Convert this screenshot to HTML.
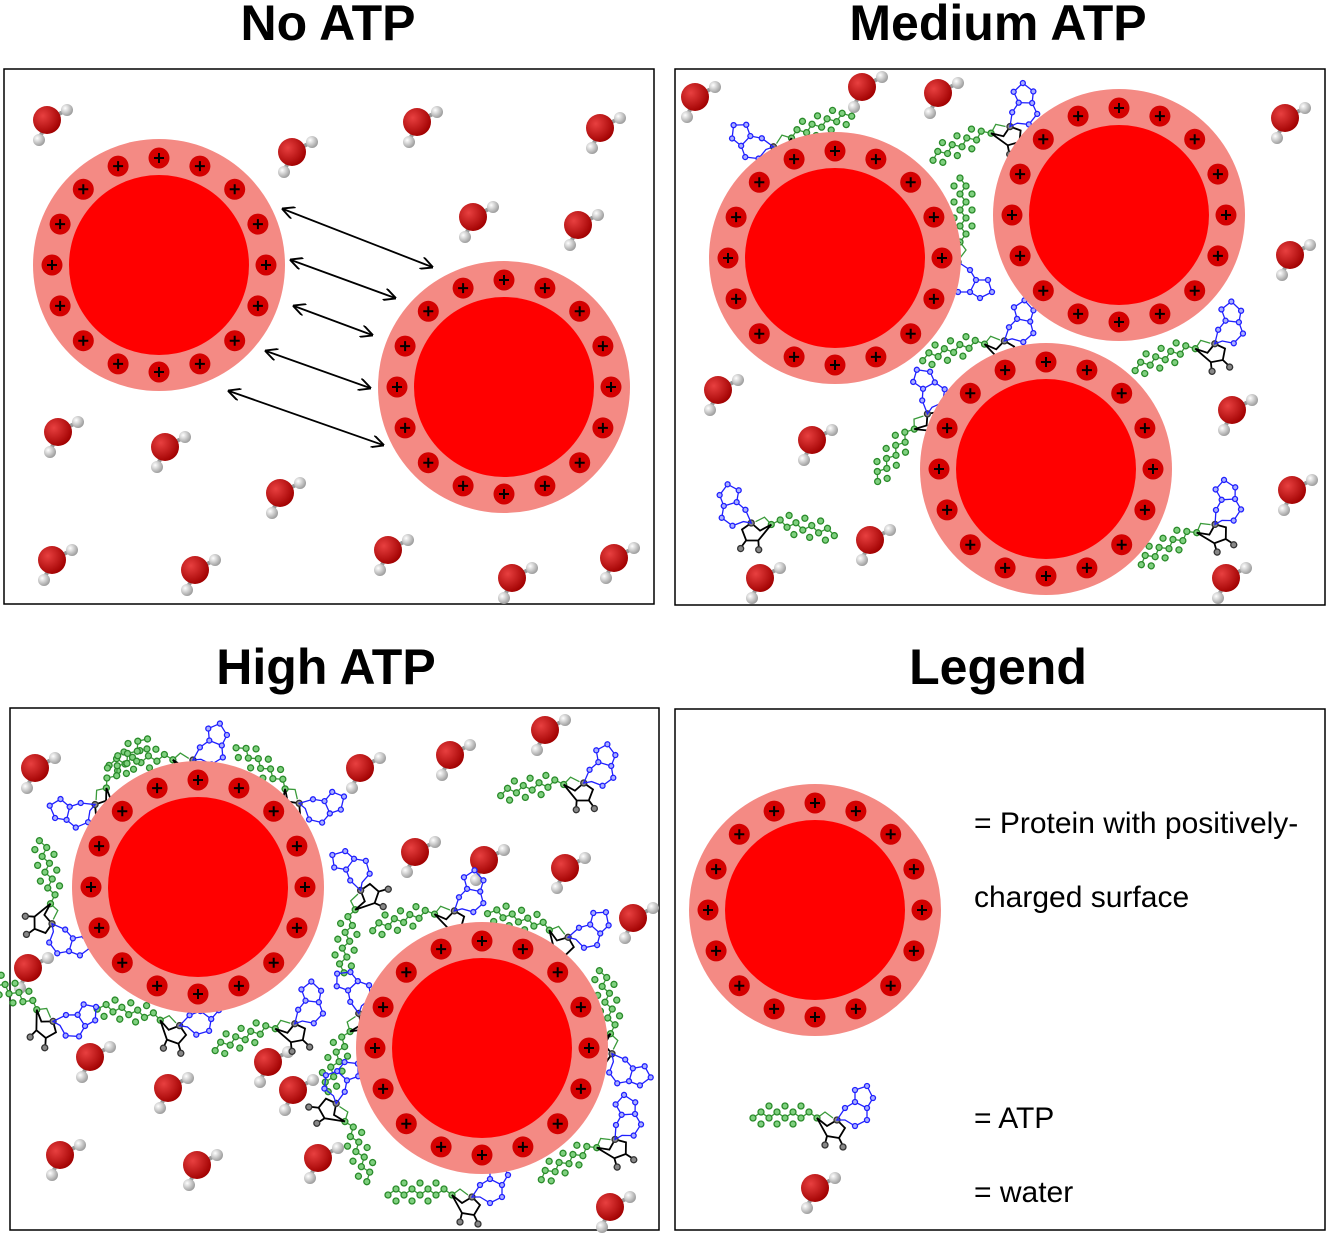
<!DOCTYPE html>
<html><head><meta charset="utf-8"><style>
html,body{margin:0;padding:0;background:#fff}
svg{display:block}
.t{font-family:"Liberation Sans",Arial,sans-serif;font-weight:bold;font-size:50px;text-anchor:middle}
.l{font-family:"Liberation Sans",Arial,sans-serif;font-size:30px}
</style></head><body>
<svg width="1328" height="1235" viewBox="0 0 1328 1235" xmlns="http://www.w3.org/2000/svg">
<defs>
<radialGradient id="rg" cx="0.35" cy="0.35" r="0.7"><stop offset="0" stop-color="#e84040"/><stop offset="1" stop-color="#a00000"/></radialGradient>
<radialGradient id="wg" cx="0.35" cy="0.35" r="0.7"><stop offset="0" stop-color="#fff"/><stop offset="1" stop-color="#999"/></radialGradient>
<g id="plus"><circle r="10.5" fill="#d40000"/><path d="M-5 0H5M0 -5V5" stroke="#000" stroke-width="2"/></g>
<g id="prot">
<circle r="126" fill="#f48a84"/><circle r="90" fill="#ff0000"/>
<use href="#plus" x="107" y="0"/><use href="#plus" x="98.9" y="40.9"/><use href="#plus" x="75.7" y="75.7"/><use href="#plus" x="40.9" y="98.9"/>
<use href="#plus" x="0" y="107"/><use href="#plus" x="-40.9" y="98.9"/><use href="#plus" x="-75.7" y="75.7"/><use href="#plus" x="-98.9" y="40.9"/>
<use href="#plus" x="-107" y="0"/><use href="#plus" x="-98.9" y="-40.9"/><use href="#plus" x="-75.7" y="-75.7"/><use href="#plus" x="-40.9" y="-98.9"/>
<use href="#plus" x="0" y="-107"/><use href="#plus" x="40.9" y="-98.9"/><use href="#plus" x="75.7" y="-75.7"/><use href="#plus" x="98.9" y="-40.9"/>
</g>
<g id="w">
<path d="M0 0L20 -10M0 0L-8 20" stroke="#999" stroke-width="4"/>
<circle cx="20" cy="-10" r="6" fill="url(#wg)"/><circle cx="-8" cy="20" r="6" fill="url(#wg)"/>
<circle r="14" fill="url(#rg)"/>
</g>
<g id="atp" fill="none" stroke-width="1.3">
<path d="M-62 10l8 -6l8 6l8 -6l8 6l8 -6l8 6l8 -6l8 6l8 -6l8 6" stroke="#3a9a3a"/>
<g fill="#7fd07f" stroke="#2a8a2a">
<circle cx="-62" cy="10" r="3"/><circle cx="-54" cy="4" r="3"/><circle cx="-46" cy="10" r="3"/><circle cx="-38" cy="4" r="3"/><circle cx="-30" cy="10" r="3"/><circle cx="-22" cy="4" r="3"/><circle cx="-14" cy="10" r="3"/><circle cx="-6" cy="4" r="3"/><circle cx="2" cy="10" r="3"/><circle cx="-46" cy="-2" r="3"/><circle cx="-30" cy="-2" r="3"/><circle cx="-14" cy="-2" r="3"/><circle cx="-38" cy="16" r="3"/><circle cx="-22" cy="16" r="3"/><circle cx="-54" cy="16" r="3"/></g>
<path d="M2 10L12 18L22 12L30 20L24 30L12 28Z M12 28L10 36M24 30L28 38" stroke="#000" stroke-width="1.8"/>
<g fill="#888" stroke="#333"><circle cx="10" cy="37" r="3"/><circle cx="28" cy="39" r="3"/><circle cx="22" cy="12" r="3"/></g>
<path d="M22 12L30 0L40 -6L52 0L52 12L40 18L30 12ZM40 -6L40 -18L52 -22L58 -10L52 0" stroke="#2020ff"/>
<g fill="#aab0ff" stroke="#2020ff"><circle cx="30" cy="0" r="2.5"/><circle cx="40" cy="-6" r="2.5"/><circle cx="52" cy="0" r="2.5"/><circle cx="52" cy="12" r="2.5"/><circle cx="40" cy="18" r="2.5"/><circle cx="40" cy="-18" r="2.5"/><circle cx="52" cy="-22" r="2.5"/><circle cx="58" cy="-10" r="2.5"/></g>
</g>
<marker id="ah" viewBox="0 0 10 10" refX="9" refY="5" markerWidth="7" markerHeight="7" orient="auto-start-reverse"><path d="M0 0L10 5L0 10" fill="none" stroke="#000" stroke-width="1.5"/></marker>
</defs>

<text class="t" x="328" y="40">No ATP</text>
<text class="t" x="998" y="40">Medium ATP</text>
<text class="t" x="326" y="684">High ATP</text>
<text class="t" x="998" y="684">Legend</text>

<rect x="4" y="69" width="650" height="535" fill="none" stroke="#000" stroke-width="1.5"/>
<rect x="675" y="69" width="650" height="536" fill="none" stroke="#000" stroke-width="1.5"/>
<rect x="10" y="708" width="649" height="522" fill="none" stroke="#000" stroke-width="1.5"/>
<rect x="675" y="709" width="650" height="521" fill="none" stroke="#000" stroke-width="1.5"/>

<g>
<use href="#w" x="47" y="120"/><use href="#w" x="417" y="122"/><use href="#w" x="292" y="152"/><use href="#w" x="600" y="128"/><use href="#w" x="473" y="217"/><use href="#w" x="578" y="225"/><use href="#w" x="58" y="432"/><use href="#w" x="165" y="447"/><use href="#w" x="280" y="493"/><use href="#w" x="52" y="560"/><use href="#w" x="195" y="570"/><use href="#w" x="388" y="550"/><use href="#w" x="512" y="578"/><use href="#w" x="614" y="558"/>
</g>
<use href="#prot" x="159" y="265"/><use href="#prot" x="504" y="387"/>
<g stroke="#000" stroke-width="1.8" marker-start="url(#ah)" marker-end="url(#ah)">
<line x1="283" y1="209" x2="432" y2="267"/><line x1="291" y1="260" x2="395" y2="298"/><line x1="294" y1="306" x2="372" y2="335"/><line x1="266" y1="351" x2="370" y2="388"/><line x1="229" y1="391" x2="383" y2="445"/>
</g>

<g>
<use href="#w" x="695" y="97"/><use href="#w" x="862" y="87"/><use href="#w" x="938" y="93"/><use href="#w" x="1285" y="118"/><use href="#w" x="1290" y="255"/><use href="#w" x="718" y="390"/><use href="#w" x="812" y="440"/><use href="#w" x="1232" y="410"/><use href="#w" x="1292" y="490"/><use href="#w" x="870" y="540"/><use href="#w" x="760" y="578"/><use href="#w" x="1226" y="578"/>
<use href="#atp" transform="translate(790 128) rotate(-20) scale(-1 1)"/>
<use href="#atp" transform="translate(985 125) rotate(-25)"/>
<use href="#atp" transform="translate(970 240) rotate(90)"/>
<use href="#atp" transform="translate(980 335) rotate(-15)"/>
<use href="#atp" transform="translate(1190 340) rotate(-20)"/>
<use href="#atp" transform="translate(905 425) rotate(-55)"/>
<use href="#atp" transform="translate(775 515) rotate(10) scale(-1 1)"/>
<use href="#atp" transform="translate(1190 525) rotate(-30)"/>
</g>
<use href="#prot" x="835" y="258"/><use href="#prot" x="1119" y="215"/><use href="#prot" x="1046" y="469"/>

<g>
<use href="#w" x="35" y="768"/><use href="#w" x="360" y="768"/><use href="#w" x="450" y="755"/><use href="#w" x="545" y="730"/><use href="#w" x="415" y="852"/><use href="#w" x="484" y="860"/><use href="#w" x="565" y="868"/><use href="#w" x="633" y="918"/><use href="#w" x="28" y="968"/><use href="#w" x="90" y="1057"/><use href="#w" x="168" y="1088"/><use href="#w" x="268" y="1062"/><use href="#w" x="293" y="1090"/><use href="#w" x="318" y="1158"/><use href="#w" x="60" y="1155"/><use href="#w" x="197" y="1165"/><use href="#w" x="610" y="1207"/>
<use href="#atp" transform="translate(170 750) rotate(-5)"/>
<use href="#atp" transform="translate(100 780) rotate(-50) scale(-1 1)"/>
<use href="#atp" transform="translate(290 780) rotate(40)"/>
<use href="#atp" transform="translate(560 775) rotate(-10)"/>
<use href="#atp" transform="translate(60 900) rotate(80)"/>
<use href="#atp" transform="translate(345 910) rotate(-80)"/>
<use href="#atp" transform="translate(430 905) rotate(-15)"/>
<use href="#atp" transform="translate(550 920) rotate(15)"/>
<use href="#atp" transform="translate(620 1030) rotate(80)"/>
<use href="#atp" transform="translate(160 1010) rotate(10)"/>
<use href="#atp" transform="translate(270 1020) rotate(-20)"/>
<use href="#atp" transform="translate(340 1030) rotate(-70)"/>
<use href="#atp" transform="translate(355 1120) rotate(70) scale(-1 1)"/>
<use href="#atp" transform="translate(450 1185) rotate(0)"/>
<use href="#atp" transform="translate(590 1140) rotate(-30)"/>
<use href="#atp" transform="translate(40 1000) rotate(30)"/>
</g>
<use href="#prot" x="198" y="887"/><use href="#prot" x="482" y="1048"/>

<use href="#prot" x="815" y="910"/>
<use href="#atp" transform="translate(815 1108)"/>
<use href="#w" x="815" y="1188"/>
<text class="l" x="974" y="833">= Protein with positively-</text>
<text class="l" x="974" y="907">charged surface</text>
<text class="l" x="974" y="1128">= ATP</text>
<text class="l" x="974" y="1202">= water</text>
</svg>
</body></html>
